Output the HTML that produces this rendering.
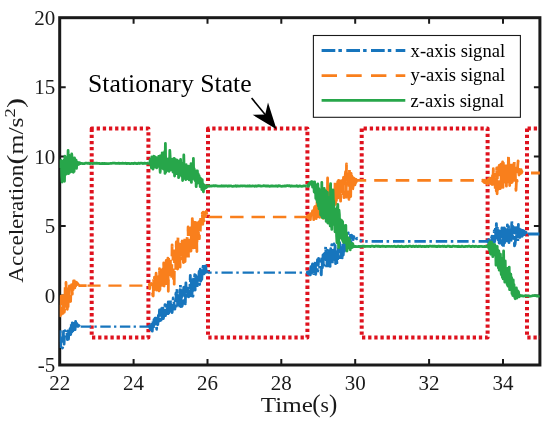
<!DOCTYPE html>
<html lang="en"><head><meta charset="utf-8"><title>Acceleration signals</title>
<style>html,body{margin:0;padding:0;background:#fff;overflow:hidden}body{width:550px;height:427px}</style></head>
<body>
<svg width="550" height="427" viewBox="0 0 550 427" style="display:block">
<rect width="550" height="427" fill="#ffffff"/>
<defs><clipPath id="cp"><rect x="59.7" y="17.7" width="480.2" height="347.3"/></clipPath></defs>
<rect x="59.7" y="17.7" width="480.2" height="347.3" fill="none" stroke="#1a1a1a" stroke-width="3"/>
<path d="M133.6,365.0 v-6 M133.6,17.7 v6 M207.5,365.0 v-6 M207.5,17.7 v6 M281.3,365.0 v-6 M281.3,17.7 v6 M355.2,365.0 v-6 M355.2,17.7 v6 M429.1,365.0 v-6 M429.1,17.7 v6 M503.0,365.0 v-6 M503.0,17.7 v6 M59.7,295.5 h6 M539.9,295.5 h-6 M59.7,226.1 h6 M539.9,226.1 h-6 M59.7,156.6 h6 M539.9,156.6 h-6 M59.7,87.2 h6 M539.9,87.2 h-6" stroke="#1a1a1a" stroke-width="2" fill="none"/>
<g clip-path="url(#cp)" fill="none" stroke-linejoin="round" stroke-width="2.8">
<path d="M91.7,128.6 V337.4 H148.4 V128.6 Z" stroke="#df121e" stroke-width="4" stroke-dasharray="3.3 2.85"/>
<path d="M208,128.6 V337.4 H307.4 V128.6 Z" stroke="#df121e" stroke-width="4" stroke-dasharray="3.3 2.85"/>
<path d="M361.7,128.6 V337.4 H487.6 V128.6 Z" stroke="#df121e" stroke-width="4" stroke-dasharray="3.3 2.85"/>
<path d="M527,128.6 V337.4 H560 V128.6 Z" stroke="#df121e" stroke-width="4" stroke-dasharray="3.3 2.85"/>
<polyline points="59.7,342.0 60.2,328.6 60.8,348.8 61.3,347.3 61.9,346.7 62.4,348.0 63.0,346.2 63.5,331.5 64.1,344.2 64.6,331.1 65.2,330.6 65.7,330.6 66.3,329.8 66.8,330.2 67.4,339.7 67.9,330.8 68.5,339.2 69.0,330.1 69.6,335.9 70.1,328.6 70.7,334.5 71.2,323.3 71.8,332.0 72.3,322.8 72.9,330.8 73.4,322.9 74.0,327.2 74.5,321.9 75.1,329.6 75.6,321.3 76.2,326.4 76.7,323.5 77.3,326.3 77.8,324.9 78.4,326.2 78.9,325.4 79.5,326.6" stroke="#1775bd" stroke-dasharray="11.4 3.6 2.5 3.9"/>
<polyline points="79.7,326.6 149.3,326.6" stroke="#1775bd" stroke-dasharray="10.44 3.30 2.29 3.57" stroke-dashoffset="18.60" stroke-width="2.3"/>
<polyline points="149.0,326.6 149.6,325.6 150.1,328.9 150.7,326.1 151.2,329.7 151.8,323.1 152.3,331.2 152.9,321.0 153.4,327.8 154.0,319.6 154.5,319.4 155.1,318.1 155.6,326.8 156.2,318.1 156.7,329.3 157.3,324.4 157.8,324.6 158.4,315.3 158.9,321.2 159.5,310.0 160.0,320.7 160.6,309.7 161.1,320.2 161.7,308.4 162.2,320.1 162.8,306.4 163.3,318.7 163.9,315.6 164.4,315.3 165.0,304.6 165.5,315.7 166.1,304.2 166.6,302.5 167.2,303.6 167.7,315.5 168.3,301.9 168.8,313.0 169.4,311.5 169.9,313.9 170.5,300.4 171.0,309.2 171.6,309.3 172.1,312.5 172.7,307.8 173.2,297.9 173.8,299.3 174.3,308.9 174.9,309.1 175.4,297.8 176.0,292.9 176.5,306.1 177.1,288.2 177.6,304.8 178.2,292.5 178.7,303.2 179.3,293.4 179.8,308.5 180.4,284.9 180.9,306.7 181.5,290.4 182.0,306.3 182.6,304.2 183.1,300.3 183.7,287.5 184.2,301.0 184.8,286.9 185.3,303.9 185.9,282.8 186.4,298.9 187.0,294.7 187.5,295.5 188.1,285.4 188.6,296.9 189.2,293.8 189.7,293.9 190.3,275.3 190.8,295.6 191.4,278.8 191.9,298.5 192.5,277.4 193.0,296.3 193.6,276.8 194.1,288.0 194.7,274.7 195.2,290.0 195.8,275.5 196.3,285.5 196.9,276.6 197.4,285.6 198.0,284.7 198.5,281.7 199.1,271.5 199.6,284.5 200.2,269.2 200.7,281.1 201.3,268.3 201.8,279.3 202.4,268.6 202.9,268.3 203.5,263.4 204.0,273.9 204.6,267.0 205.1,272.5 205.7,266.0 206.2,271.5 206.8,269.7 207.3,272.0 207.9,272.6" stroke="#1775bd" stroke-dasharray="11.4 3.6 2.5 3.9"/>
<polyline points="207.7,272.6 307.3,272.6" stroke="#1775bd" stroke-dasharray="11.24 3.55 2.46 3.85" stroke-dashoffset="7.30" stroke-width="2.3"/>
<polyline points="307.0,272.6 307.6,272.0 308.1,273.9 308.7,271.9 309.2,274.3 309.8,269.9 310.3,274.9 310.9,266.6 311.4,274.8 312.0,266.7 312.5,264.0 313.1,264.4 313.6,273.6 314.2,263.6 314.7,271.5 315.3,260.7 315.8,274.4 316.4,272.6 316.9,271.0 317.5,259.6 318.0,271.0 318.6,258.4 319.1,259.0 319.7,269.4 320.2,269.6 320.8,271.7 321.3,274.8 321.9,256.9 322.4,267.8 323.0,255.0 323.5,267.4 324.1,255.0 324.6,253.5 325.2,255.5 325.7,246.3 326.3,264.5 326.8,268.5 327.4,250.1 327.9,265.3 328.5,253.0 329.0,267.3 329.6,247.7 330.1,266.4 330.7,248.7 331.2,261.9 331.8,244.6 332.3,264.2 332.9,250.1 333.4,262.7 334.0,244.0 334.5,262.0 335.1,245.3 335.6,263.6 336.2,249.0 336.7,264.5 337.3,258.1 337.8,258.9 338.4,245.3 338.9,245.7 339.5,240.2 340.0,260.2 340.6,256.3 341.1,255.4 341.7,245.3 342.2,257.9 342.8,243.0 343.3,255.0 343.9,239.3 344.4,251.3 345.0,236.0 345.5,250.2 346.1,239.9 346.6,249.3 347.2,239.4 347.7,236.8 348.3,233.0 348.8,235.8 349.4,241.4 349.9,240.3 350.5,235.3 351.0,242.3 351.6,235.2 352.1,235.7 352.7,238.8 353.2,239.6 353.8,236.7 354.3,238.6 354.9,238.1 355.4,238.1 356.0,237.3 356.5,238.9 357.1,238.3 357.6,238.8 358.2,239.0 358.7,240.1 359.3,240.5 359.8,240.1 360.4,240.3 360.9,241.1 361.5,241.0 362.0,241.4" stroke="#1775bd" stroke-dasharray="11.4 3.6 2.5 3.9"/>
<polyline points="361.7,241.4 487.3,241.4" stroke="#1775bd" stroke-dasharray="11.40 3.60 2.50 3.90" stroke-dashoffset="11.50"/>
<polyline points="487.0,241.4 487.6,240.4 488.1,242.4 488.7,239.5 489.2,241.8 489.8,238.6 490.3,243.2 490.9,238.5 491.4,238.6 492.0,236.2 492.5,245.1 493.1,236.1 493.6,241.6 494.2,230.9 494.7,241.7 495.3,226.6 495.8,238.0 496.4,223.6 496.9,240.3 497.5,228.1 498.0,239.8 498.6,228.8 499.1,242.9 499.7,229.6 500.2,245.9 500.8,231.9 501.3,243.0 501.9,228.0 502.4,244.9 503.0,229.2 503.5,247.7 504.1,227.9 504.6,244.2 505.2,228.7 505.7,242.6 506.3,229.7 506.8,240.9 507.4,224.8 507.9,243.1 508.5,226.3 509.0,242.6 509.6,229.5 510.1,227.1 510.7,242.5 511.2,239.5 511.8,220.8 512.3,240.1 512.9,226.4 513.4,238.5 514.0,227.4 514.5,245.9 515.1,244.0 515.6,239.5 516.2,227.6 516.7,237.3 517.3,238.6 517.8,241.4 518.4,224.5 518.9,236.7 519.5,229.0 520.0,237.3 520.6,230.7 521.1,229.9 521.7,235.8 522.2,236.3 522.8,230.3 523.3,235.5 523.9,230.9 524.4,234.7 525.0,232.0 525.5,234.3 526.1,232.3 526.6,234.0" stroke="#1775bd" stroke-dasharray="11.4 3.6 2.5 3.9"/>
<polyline points="526.7,234.0 540.2,234.0" stroke="#1775bd" stroke-dasharray="11.40 3.60 2.50 3.90" stroke-dashoffset="20.10"/>
<polyline points="59.7,305.0 60.1,315.8 60.5,315.3 61.0,296.1 61.4,314.3 61.8,297.0 62.2,298.0 62.6,295.7 63.1,313.3 63.5,297.6 63.9,307.6 64.3,312.2 64.7,308.6 65.2,286.6 65.6,310.7 66.0,282.5 66.4,292.7 66.8,306.8 67.3,309.3 67.7,289.2 68.1,306.6 68.5,287.8 68.9,304.3 69.4,285.8 69.8,288.7 70.2,301.5 70.6,301.4 71.0,286.7 71.5,284.8 71.9,285.3 72.3,294.2 72.7,284.9 73.1,289.6 73.6,280.8 74.0,288.1 74.4,280.8 74.8,287.8 75.2,281.8 75.7,286.0 76.1,282.7 76.5,282.3 76.9,282.8 77.3,283.4 77.8,283.7 78.2,284.4 78.6,285.6" stroke="#f97f1c" stroke-dasharray="13.5 8"/>
<polyline points="78.5,285.6 86.6,285.6" stroke="#f97f1c"/>
<polyline points="78.7,285.6 149.3,285.6" stroke="#f97f1c" stroke-dasharray="13.12 7.78" stroke-dashoffset="12.10" stroke-width="2.3"/>
<polyline points="149.0,285.6 149.4,284.3 149.8,288.5 150.3,284.4 150.7,283.7 151.1,283.5 151.5,291.3 151.9,292.4 152.4,291.8 152.8,295.5 153.2,296.0 153.6,278.7 154.0,289.9 154.5,277.1 154.9,277.1 155.3,278.5 155.7,290.6 156.1,273.2 156.6,290.1 157.0,276.1 157.4,291.3 157.8,291.0 158.2,276.7 158.7,289.9 159.1,290.9 159.5,268.7 159.9,289.6 160.3,273.4 160.8,285.6 161.2,270.2 161.6,287.5 162.0,271.5 162.4,284.9 162.9,268.8 163.3,288.4 163.7,262.9 164.1,286.0 164.5,265.2 165.0,280.8 165.4,260.8 165.8,285.7 166.2,260.3 166.6,278.1 167.1,260.1 167.5,277.6 167.9,258.1 168.3,291.3 168.7,256.4 169.2,278.4 169.6,279.6 170.0,256.6 170.4,260.2 170.8,278.3 171.3,279.4 171.7,276.5 172.1,244.8 172.5,255.6 172.9,251.7 173.4,278.7 173.8,275.6 174.2,284.2 174.6,249.1 175.0,255.4 175.5,255.7 175.9,273.3 176.3,241.9 176.7,266.7 177.1,248.9 177.6,269.0 178.0,235.8 178.4,265.6 178.8,249.1 179.2,267.2 179.7,248.1 180.1,267.2 180.5,240.7 180.9,241.5 181.3,244.5 181.8,242.7 182.2,241.0 182.6,260.6 183.0,239.7 183.4,262.6 183.9,240.8 184.3,257.5 184.7,235.3 185.1,261.5 185.5,240.9 186.0,259.4 186.4,239.1 186.8,257.5 187.2,236.5 187.6,259.1 188.1,226.9 188.5,258.8 188.9,253.2 189.3,250.8 189.7,231.8 190.2,234.7 190.6,228.0 191.0,251.0 191.4,230.7 191.8,247.2 192.3,218.6 192.7,249.6 193.1,245.2 193.5,247.8 193.9,222.2 194.4,245.6 194.8,227.6 195.2,247.6 195.6,222.5 196.0,244.5 196.5,225.9 196.9,251.5 197.3,221.8 197.7,239.5 198.1,222.6 198.6,236.6 199.0,235.1 199.4,238.7 199.8,220.9 200.2,233.9 200.7,217.6 201.1,219.5 201.5,217.9 201.9,217.0 202.3,213.0 202.8,224.3 203.2,212.1 203.6,221.2 204.0,220.5 204.4,220.6 204.9,212.3 205.3,216.6 205.7,216.1 206.1,211.3 206.5,212.9 207.0,214.9 207.4,217.0" stroke="#f97f1c" stroke-dasharray="13.5 8"/>
<polyline points="207.2,217.0 307.3,217.0" stroke="#f97f1c" stroke-dasharray="13.44 7.96" stroke-dashoffset="19.90" stroke-width="2.3"/>
<polyline points="307.0,217.0 307.4,216.0 307.8,217.7 308.3,215.8 308.7,218.4 309.1,214.8 309.5,218.4 309.9,215.3 310.4,219.7 310.8,213.6 311.2,213.8 311.6,214.0 312.0,214.2 312.5,211.0 312.9,218.6 313.3,211.4 313.7,219.6 314.1,210.2 314.6,207.0 315.0,206.5 315.4,216.5 315.8,208.5 316.2,218.7 316.7,209.8 317.1,201.5 317.5,216.2 317.9,216.6 318.3,207.1 318.8,206.0 319.2,206.1 319.6,217.3 320.0,213.5 320.4,216.1 320.9,203.0 321.3,214.9 321.7,200.9 322.1,199.6 322.5,198.0 323.0,218.3 323.4,199.0 323.8,215.3 324.2,190.6 324.6,209.7 325.1,192.1 325.5,214.1 325.9,191.1 326.3,217.7 326.7,195.5 327.2,212.5 327.6,178.0 328.0,211.5 328.4,190.5 328.8,185.6 329.3,210.9 329.7,216.0 330.1,187.9 330.5,205.1 330.9,190.9 331.4,203.1 331.8,186.9 332.2,203.7 332.6,205.6 333.0,207.6 333.5,189.0 333.9,189.3 334.3,187.0 334.7,204.7 335.1,182.5 335.6,208.2 336.0,185.4 336.4,200.5 336.8,199.7 337.2,200.1 337.7,181.7 338.1,197.8 338.5,180.4 338.9,180.3 339.3,181.1 339.8,197.6 340.2,184.0 340.6,201.2 341.0,183.9 341.4,180.7 341.9,181.2 342.3,194.3 342.7,176.3 343.1,193.9 343.5,177.3 344.0,197.6 344.4,195.8 344.8,191.8 345.2,175.4 345.6,171.6 346.1,200.9 346.5,164.0 346.9,175.0 347.3,175.0 347.7,175.8 348.2,189.3 348.6,177.1 349.0,199.4 349.4,167.7 349.8,193.1 350.3,173.7 350.7,196.5 351.1,173.4 351.5,188.2 351.9,176.2 352.4,189.9 352.8,188.6 353.2,185.9 353.6,177.9 354.0,178.3 354.5,174.4 354.9,184.9 355.3,183.0 355.7,182.9 356.1,179.5 356.6,181.4 357.0,180.4" stroke="#f97f1c" stroke-dasharray="13.5 8"/>
<polyline points="356.7,180.4 482.3,180.4" stroke="#f97f1c" stroke-dasharray="13.53 8.02" stroke-dashoffset="4.05"/>
<polyline points="482.0,180.4 482.4,180.2 482.8,181.2 483.3,181.3 483.7,181.9 484.1,180.2 484.5,182.5 484.9,180.8 485.4,182.7 485.8,180.3 486.2,183.7 486.6,180.7 487.0,182.8 487.5,184.4 487.9,183.1 488.3,179.6 488.7,182.2 489.1,177.5 489.6,182.4 490.0,178.1 490.4,182.4 490.8,182.6 491.2,183.7 491.7,177.1 492.1,184.5 492.5,175.6 492.9,183.6 493.3,168.7 493.8,183.1 494.2,171.4 494.6,185.0 495.0,183.8 495.4,191.6 495.9,188.3 496.3,191.0 496.7,167.9 497.1,193.8 497.5,169.4 498.0,189.4 498.4,167.4 498.8,186.9 499.2,165.4 499.6,184.9 500.1,188.6 500.5,188.3 500.9,164.1 501.3,186.4 501.7,168.8 502.2,185.4 502.6,161.9 503.0,187.4 503.4,162.1 503.8,162.6 504.3,166.5 504.7,186.3 505.1,164.6 505.5,162.2 505.9,163.3 506.4,186.1 506.8,165.8 507.2,183.8 507.6,164.8 508.0,181.9 508.5,153.3 508.9,168.8 509.3,165.3 509.7,185.5 510.1,163.2 510.6,184.6 511.0,185.3 511.4,184.4 511.8,166.7 512.2,182.3 512.7,165.0 513.1,182.6 513.5,163.7 513.9,182.6 514.3,160.4 514.8,163.1 515.2,163.9 515.6,186.6 516.0,190.3 516.4,181.2 516.9,180.2 517.3,181.2 517.7,165.8 518.1,160.8 518.5,167.8 519.0,175.0 519.4,169.5 519.8,174.5 520.2,169.5 520.6,173.5 521.1,169.6 521.5,173.0 521.9,171.3 522.3,172.8 522.7,172.9 523.2,173.0 523.6,171.9 524.0,173.2 524.4,171.9 524.8,171.5 525.3,172.2 525.7,173.0" stroke="#f97f1c" stroke-dasharray="13.5 8"/>
<polyline points="525.4,173.0 540.2,173.0" stroke="#f97f1c" stroke-dasharray="13.50 8.00" stroke-dashoffset="15.90"/>
<polyline points="59.7,168.0 60.1,163.7 60.5,160.7 60.9,163.1 61.3,160.5 61.7,176.2 62.1,182.0 62.5,161.3 62.9,176.4 63.3,161.1 63.7,172.0 64.1,160.2 64.5,181.3 64.9,156.2 65.3,156.9 65.7,159.5 66.1,174.2 66.5,161.5 66.9,161.4 67.3,157.9 67.7,171.2 68.1,150.5 68.5,173.7 68.9,159.9 69.3,172.6 69.7,155.7 70.1,156.9 70.5,171.4 70.9,171.7 71.3,160.0 71.7,154.0 72.1,158.0 72.5,169.1 72.9,158.2 73.3,172.3 73.7,160.0 74.1,171.4 74.5,157.8 74.9,161.2 75.3,161.2 75.7,166.3 76.1,160.2 76.5,168.3 76.9,162.0 77.3,162.9 77.7,162.3 78.1,164.5 78.5,162.7 78.9,164.2 79.3,163.8 79.7,162.8 80.1,163.0 80.5,163.6 80.9,163.4" stroke="#27a64a"/>
<polyline points="80.7,163.3 81.7,163.3 82.7,163.7 83.7,163.6 84.7,163.6 85.7,163.1 86.7,163.2 87.7,163.4 88.7,163.2 89.7,163.6 90.7,163.3 91.7,163.4 92.7,163.6 93.7,163.4 94.7,163.2 95.7,163.4 96.7,163.2 97.7,163.4 98.7,163.4 99.7,163.5 100.7,163.7 101.7,163.5 102.7,163.4 103.7,163.6 104.7,163.3 105.7,163.7 106.7,163.5 107.7,163.7 108.7,163.7 109.7,163.5 110.7,163.3 111.7,163.3 112.7,163.2 113.7,163.2 114.7,163.2 115.7,163.4 116.7,163.3 117.7,163.3 118.7,163.1 119.7,163.5 120.7,163.3 121.7,163.4 122.7,163.2 123.7,163.3 124.7,163.3 125.7,163.2 126.7,163.6 127.7,163.3 128.7,163.4 129.7,163.7 130.7,163.7 131.7,163.3 132.7,163.5 133.7,163.5 134.7,163.1 135.7,163.3 136.7,163.6 137.7,163.6 138.7,163.1 139.7,163.5 140.7,163.2 141.7,163.2 142.7,163.5 143.7,163.4 144.7,163.1 145.7,163.3 146.7,163.4 147.7,163.2 148.7,163.3" stroke="#27a64a"/>
<polyline points="149.0,163.0 149.4,163.6 149.8,163.9 150.2,159.6 150.6,163.7 151.0,159.8 151.4,167.9 151.8,157.0 152.2,167.2 152.6,158.4 153.0,169.1 153.4,157.2 153.8,156.2 154.2,157.9 154.6,167.0 155.0,156.9 155.4,166.3 155.8,157.4 156.2,166.4 156.6,167.9 157.0,166.0 157.4,165.1 157.8,166.0 158.2,166.2 158.6,156.4 159.0,156.3 159.4,164.8 159.8,165.4 160.2,172.4 160.6,155.7 161.0,168.4 161.4,155.5 161.8,167.4 162.2,152.8 162.6,166.9 163.0,157.0 163.4,169.0 163.8,155.5 164.2,167.7 164.6,151.7 165.0,173.4 165.4,143.5 165.8,172.1 166.2,159.6 166.6,170.8 167.0,159.5 167.4,169.7 167.8,159.0 168.2,167.8 168.6,158.7 169.0,171.3 169.4,169.8 169.8,150.5 170.2,157.8 170.6,169.8 171.0,169.9 171.4,168.7 171.8,167.9 172.2,169.8 172.6,159.2 173.0,172.0 173.4,159.1 173.8,172.3 174.2,158.4 174.6,176.0 175.0,159.3 175.4,169.9 175.8,171.1 176.2,170.7 176.6,159.8 177.0,173.6 177.4,162.5 177.8,173.1 178.2,160.9 178.6,177.7 179.0,163.9 179.4,174.6 179.8,175.1 180.2,171.9 180.6,159.5 181.0,174.1 181.4,173.3 181.8,176.4 182.2,163.3 182.6,180.5 183.0,163.5 183.4,174.8 183.8,155.0 184.2,176.5 184.6,175.8 185.0,178.3 185.4,177.2 185.8,179.5 186.2,164.7 186.6,176.6 187.0,168.1 187.4,178.7 187.8,167.0 188.2,176.5 188.6,166.2 189.0,179.8 189.4,176.7 189.8,179.1 190.2,166.3 190.6,176.4 191.0,163.7 191.4,182.4 191.8,169.4 192.2,178.4 192.6,168.9 193.0,177.1 193.4,158.5 193.8,177.3 194.2,168.9 194.6,179.8 195.0,171.3 195.4,180.9 195.8,172.3 196.2,186.7 196.6,170.8 197.0,183.1 197.4,170.8 197.8,183.0 198.2,174.0 198.6,176.3 199.0,175.5 199.4,177.8 199.8,177.6 200.2,186.6 200.6,178.5 201.0,180.9 201.4,179.8 201.8,189.5 202.2,179.6 202.6,189.3 203.0,183.6 203.4,191.8 203.8,184.8 204.2,185.4 204.6,185.7 205.0,188.4 205.4,185.7 205.8,187.9 206.2,186.0 206.6,187.4 207.0,186.2" stroke="#27a64a"/>
<polyline points="206.7,186.0 207.7,185.9 208.7,186.0 209.7,185.9 210.7,186.1 211.7,186.0 212.7,185.9 213.7,185.7 214.7,186.0 215.7,185.7 216.7,185.8 217.7,186.2 218.7,186.2 219.7,186.2 220.7,186.1 221.7,185.7 222.7,186.1 223.7,185.8 224.7,186.1 225.7,185.8 226.7,185.9 227.7,186.3 228.7,185.9 229.7,186.0 230.7,185.8 231.7,186.1 232.7,186.3 233.7,186.1 234.7,186.2 235.7,185.7 236.7,186.3 237.7,185.8 238.7,186.2 239.7,186.2 240.7,185.9 241.7,185.9 242.7,186.0 243.7,185.8 244.7,185.8 245.7,186.1 246.7,186.2 247.7,185.9 248.7,186.1 249.7,185.7 250.7,186.2 251.7,186.1 252.7,185.8 253.7,186.0 254.7,186.3 255.7,185.9 256.7,186.3 257.7,185.9 258.7,185.7 259.7,185.9 260.7,186.0 261.7,186.2 262.7,186.0 263.7,185.7 264.7,185.9 265.7,186.0 266.7,185.9 267.7,186.0 268.7,186.0 269.7,186.3 270.7,186.0 271.7,186.0 272.7,186.0 273.7,186.1 274.7,186.1 275.7,185.9 276.7,186.0 277.7,186.3 278.7,185.7 279.7,185.9 280.7,186.2 281.7,186.3 282.7,186.1 283.7,186.2 284.7,185.8 285.7,186.1 286.7,185.7 287.7,185.7 288.7,185.9 289.7,185.7 290.7,186.3 291.7,185.9 292.7,186.1 293.7,186.2 294.7,186.1 295.7,186.2 296.7,185.7 297.7,186.3 298.7,186.3 299.7,185.8 300.7,186.2 301.7,186.3 302.7,186.1 303.7,185.8 304.7,185.9 305.7,186.0 306.7,186.2" stroke="#27a64a"/>
<polyline points="307.0,186.0 307.4,185.5 307.8,186.2 308.2,184.6 308.6,186.3 309.0,184.3 309.4,183.1 309.8,183.7 310.2,182.5 310.6,183.4 311.0,183.5 311.4,181.7 311.8,185.1 312.2,181.9 312.6,187.2 313.0,182.1 313.4,183.8 313.8,183.8 314.2,192.0 314.6,181.9 315.0,192.8 315.4,185.6 315.8,198.4 316.2,185.2 316.6,199.7 317.0,187.3 317.4,202.5 317.8,184.0 318.2,205.8 318.6,188.5 319.0,208.8 319.4,191.5 319.8,208.4 320.2,190.2 320.6,214.8 321.0,208.8 321.4,215.7 321.8,182.3 322.2,217.5 322.6,192.7 323.0,211.5 323.4,194.6 323.8,218.1 324.2,188.5 324.6,217.9 325.0,193.7 325.4,214.9 325.8,191.0 326.2,221.4 326.6,198.8 327.0,216.0 327.4,192.3 327.8,223.1 328.2,218.3 328.6,218.4 329.0,197.6 329.4,221.9 329.8,201.7 330.2,225.9 330.6,183.6 331.0,226.4 331.4,202.9 331.8,229.4 332.2,199.2 332.6,224.5 333.0,189.9 333.4,201.8 333.8,201.2 334.2,224.0 334.6,210.0 335.0,231.8 335.4,209.1 335.8,230.8 336.2,211.8 336.6,236.2 337.0,242.6 337.4,207.7 337.8,204.5 338.2,233.9 338.6,247.7 339.0,210.1 339.4,214.7 339.8,232.6 340.2,219.5 340.6,237.8 341.0,221.5 341.4,236.0 341.8,220.6 342.2,239.6 342.6,221.6 343.0,241.5 343.4,225.3 343.8,242.5 344.2,228.8 344.6,241.4 345.0,226.9 345.4,241.8 345.8,225.4 346.2,243.4 346.6,233.1 347.0,251.0 347.4,237.2 347.8,246.0 348.2,238.5 348.6,247.5 349.0,238.3 349.4,240.1 349.8,240.9 350.2,249.8 350.6,243.5 351.0,247.7 351.4,243.6 351.8,247.7 352.2,244.6 352.6,243.5 353.0,244.6 353.4,246.9 353.8,246.4" stroke="#27a64a"/>
<polyline points="353.7,246.5 354.7,246.4 355.7,246.5 356.7,246.6 357.7,246.6 358.7,246.4 359.7,246.7 360.7,246.4 361.7,246.4 362.7,246.1 363.7,246.1 364.7,246.6 365.7,246.4 366.7,246.3 367.7,246.3 368.7,246.3 369.7,246.3 370.7,246.6 371.7,246.1 372.7,246.2 373.7,246.5 374.7,246.5 375.7,246.1 376.7,246.1 377.7,246.4 378.7,246.2 379.7,246.5 380.7,246.5 381.7,246.3 382.7,246.1 383.7,246.3 384.7,246.4 385.7,246.6 386.7,246.4 387.7,246.4 388.7,246.3 389.7,246.3 390.7,246.5 391.7,246.3 392.7,246.5 393.7,246.3 394.7,246.2 395.7,246.6 396.7,246.6 397.7,246.2 398.7,246.2 399.7,246.6 400.7,246.5 401.7,246.1 402.7,246.7 403.7,246.6 404.7,246.7 405.7,246.3 406.7,246.2 407.7,246.7 408.7,246.1 409.7,246.1 410.7,246.1 411.7,246.7 412.7,246.2 413.7,246.2 414.7,246.6 415.7,246.2 416.7,246.2 417.7,246.7 418.7,246.1 419.7,246.3 420.7,246.2 421.7,246.7 422.7,246.3 423.7,246.5 424.7,246.5 425.7,246.6 426.7,246.2 427.7,246.3 428.7,246.6 429.7,246.1 430.7,246.2 431.7,246.3 432.7,246.1 433.7,246.4 434.7,246.2 435.7,246.5 436.7,246.5 437.7,246.6 438.7,246.1 439.7,246.6 440.7,246.3 441.7,246.3 442.7,246.2 443.7,246.5 444.7,246.1 445.7,246.7 446.7,246.6 447.7,246.1 448.7,246.1 449.7,246.6 450.7,246.5 451.7,246.7 452.7,246.1 453.7,246.2 454.7,246.3 455.7,246.4 456.7,246.3 457.7,246.6 458.7,246.2 459.7,246.6 460.7,246.7 461.7,246.1 462.7,246.4 463.7,246.6 464.7,246.6 465.7,246.3 466.7,246.3 467.7,246.5 468.7,246.2 469.7,246.2 470.7,246.6 471.7,246.5 472.7,246.2 473.7,246.3 474.7,246.6 475.7,246.2 476.7,246.5 477.7,246.7 478.7,246.4 479.7,246.5 480.7,246.3 481.7,246.4 482.7,246.6 483.7,246.6 484.7,246.4 485.7,246.6 486.7,246.7 487.7,246.6" stroke="#27a64a"/>
<polyline points="488.0,246.4 488.4,244.9 488.8,248.3 489.2,243.2 489.6,250.6 490.0,241.8 490.4,253.5 490.8,254.1 491.2,254.0 491.6,242.2 492.0,252.1 492.4,244.0 492.8,256.7 493.2,244.7 493.6,254.8 494.0,244.7 494.4,245.4 494.8,244.5 495.2,246.0 495.6,247.7 496.0,265.1 496.4,248.2 496.8,265.1 497.2,246.3 497.6,265.3 498.0,262.9 498.4,267.8 498.8,250.8 499.2,270.2 499.6,254.3 500.0,267.1 500.4,254.1 500.8,269.0 501.2,273.9 501.6,274.9 502.0,258.4 502.4,277.4 502.8,261.5 503.2,278.9 503.6,251.0 504.0,279.3 504.4,260.7 504.8,282.2 505.2,260.8 505.6,277.6 506.0,268.6 506.4,282.4 506.8,270.0 507.2,284.7 507.6,268.3 508.0,286.2 508.4,270.4 508.8,285.2 509.2,267.1 509.6,289.7 510.0,276.3 510.4,287.0 510.8,274.2 511.2,289.5 511.6,277.6 512.0,293.6 512.4,279.8 512.8,295.5 513.2,279.9 513.6,294.7 514.0,284.6 514.4,295.2 514.8,297.4 515.2,298.7 515.6,288.6 516.0,295.5 516.4,288.0 516.8,298.1 517.2,291.8 517.6,290.8 518.0,292.0 518.4,291.5 518.8,293.9 519.2,296.8 519.6,295.0 520.0,296.0" stroke="#27a64a"/>
<polyline points="519.7,296.0 520.7,295.8 521.7,295.7 522.7,296.0 523.7,296.1 524.7,295.9 525.7,295.7 526.7,295.9 527.7,295.8 528.7,295.8 529.7,296.3 530.7,296.2 531.7,296.0 532.7,295.7 533.7,295.7 534.7,295.7 535.7,295.7 536.7,296.0 537.7,296.1 538.7,296.1 539.7,295.8" stroke="#27a64a"/>
</g>
<g font-family="'Liberation Serif', 'Times New Roman', serif" font-size="21px" fill="#1a1a1a">
<text x="59.7" y="390" text-anchor="middle">22</text>
<text x="133.6" y="390" text-anchor="middle">24</text>
<text x="207.5" y="390" text-anchor="middle">26</text>
<text x="281.3" y="390" text-anchor="middle">28</text>
<text x="355.2" y="390" text-anchor="middle">30</text>
<text x="429.1" y="390" text-anchor="middle">32</text>
<text x="503.0" y="390" text-anchor="middle">34</text>
<text x="55.2" y="372.1" text-anchor="end">-5</text>
<text x="55.2" y="302.6" text-anchor="end">0</text>
<text x="55.2" y="233.2" text-anchor="end">5</text>
<text x="55.2" y="163.7" text-anchor="end">10</text>
<text x="55.2" y="94.3" text-anchor="end">15</text>
<text x="55.2" y="24.8" text-anchor="end">20</text>
</g>
<g font-family="'Liberation Serif', 'Times New Roman', serif" fill="#1a1a1a">
<g><text transform="translate(260.8,412.1) scale(1.165,1)" font-size="21.5px">Time</text><text transform="translate(312.2,412.1) scale(1.0,1)" font-size="21.5px"><tspan font-size="25px">(</tspan>s<tspan font-size="25px">)</tspan></text></g>
<g><text transform="translate(22.7,282.8) rotate(-90) scale(1.128,1)" font-size="20.5px">Acceleration</text><text transform="translate(22.7,164.4) rotate(-90) scale(1.25,1)" font-size="20.5px"><tspan font-size="24px">(</tspan>m/s<tspan dy="-8" font-size="15px">2</tspan><tspan dy="8" font-size="24px">)</tspan></text></g>
<text transform="translate(88.0,92.3) scale(1.03,1)" font-size="25px" fill="#000">Stationary State</text>
</g>
<path d="M251.6,98 L268,118" stroke="#000" stroke-width="1.6" fill="none"/>
<path d="M276.5,129.2 L252.6,114.8 L265.2,114.4 L268,102.5 Z" fill="#000"/>
<rect x="313.4" y="35.5" width="207" height="81.8" fill="#fff" stroke="#1a1a1a" stroke-width="1.1"/>
<g fill="none" stroke-width="2.8">
<path d="M321.6,50.5 H405.3" stroke="#1775bd" stroke-dasharray="13.7 3.1 3.5 4.4"/>
<path d="M321.6,75.6 H405.3" stroke="#f97f1c" stroke-dasharray="15.4 9.3"/>
<path d="M321.6,100.3 H405.3" stroke="#27a64a"/>
</g>
<g font-family="'Liberation Serif', 'Times New Roman', serif" font-size="18.6px" fill="#000">
<text x="410.6" y="56.8">x-axis signal</text>
<text x="410.6" y="81.3">y-axis signal</text>
<text x="410.6" y="106.6">z-axis signal</text>
</g>
</svg>
</body></html>
